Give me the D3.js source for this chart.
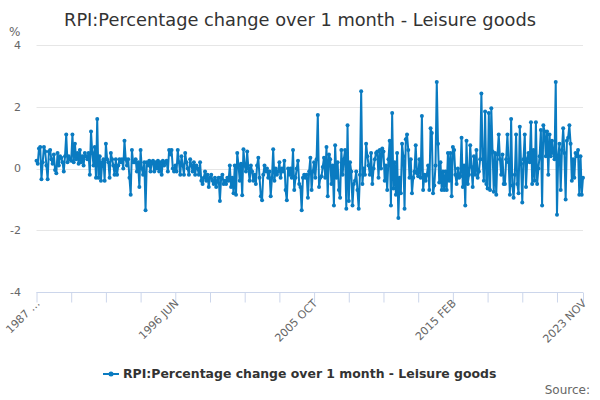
<!DOCTYPE html>
<html><head><meta charset="utf-8">
<script src="https://cdn.jsdelivr.net/npm/d3@7"></script>
<style>body{margin:0;background:#fff} text{font-family:"DejaVu Sans",sans-serif}</style>
</head><body><svg id="c" width="600" height="400"></svg>
<script>
const title = "RPI:Percentage change over 1 month - Leisure goods";
const seriesName = "RPI:Percentage change over 1 month - Leisure goods";
const unitLabel = "%";
const sourceLabel = "Source:";
const monthNames = ["JAN","FEB","MAR","APR","MAY","JUN","JUL","AUG","SEP","OCT","NOV","DEC"];
const startYear = 1987, startMonthIndex = 1; // first observation: 1987 FEB
const values = [
 0.25,0.15,0.65,0.7,-0.35,0.2,0.7,0.55,0.1,-0.35,
 0.55,0.6,0.3,0.15,0.45,-0.05,-0.15,0.5,0.1,0.4,
 0.35,0.2,-0.1,0.4,1.1,0.2,0.4,0.3,0.25,1.1,
 0.2,0.8,0.3,0.5,0.15,0.6,0.2,0.4,0.1,0.5,
 0.4,0.3,0.5,-0.2,1.2,0.5,0.1,0.7,-0.3,1.6,
 -0.3,0.4,-0.4,0.2,0.3,-0.4,0.8,0.3,0.2,-0.3,
 0.5,0.3,0.1,-0.2,0.3,-0.2,0.1,0.3,0.2,0.3,
 0.0,0.9,0.3,0.1,0.3,-0.3,-0.85,0.6,0.2,0.2,
 0.3,-0.1,0.2,-0.6,0.6,0.0,-0.2,0.2,-1.35,0.2,
 0.1,0.25,-0.1,0.2,0.25,-0.1,0.2,0.0,0.25,-0.1,
 0.2,-0.2,0.25,0.1,0.2,0.25,-0.1,0.6,0.45,0.6,
 0.0,-0.1,0.1,-0.1,0.6,0.2,-0.2,0.4,0.1,-0.2,
 0.5,0.2,0.0,-0.2,0.3,0.1,-0.1,0.2,-0.2,0.1,
 0.0,-0.2,0.2,-0.4,-0.5,-0.3,-0.1,-0.4,-0.2,-0.6,
 -0.3,-0.2,-0.4,-0.5,-0.3,-0.6,-0.4,-0.3,-1.05,-0.3,
 -0.2,-0.5,-0.4,-0.5,-0.3,-0.4,0.1,-0.6,-0.3,-0.8,
 0.1,-0.85,0.5,0.1,-0.4,0.15,-0.87,0.62,0.1,-0.1,
 0.55,0.0,-0.4,0.1,-0.1,-0.4,-0.2,-0.5,0.1,0.35,
 -0.3,-0.9,-1.03,-0.2,0.1,-0.1,0.0,-0.3,-0.1,-0.9,
 -0.3,0.62,-0.4,0.0,-0.2,-0.1,0.2,-0.3,0.0,-0.1,
 0.25,-0.7,-1.03,0.0,-0.2,0.0,-0.3,0.6,-0.7,-0.3,
 0.0,0.25,-0.5,-0.6,-1.35,-0.3,-0.2,-0.3,-0.2,-0.95,
 -0.1,0.35,-0.7,-0.1,0.2,-0.3,0.3,1.73,-0.6,-0.3,
 -0.25,0.05,0.35,-0.3,0.7,-0.9,0.45,0.3,-0.5,0.1,
 -1.2,0.75,-0.3,0.2,-0.7,-0.95,0.6,-0.2,0.3,0.6,
 -1.3,1.4,-1.05,0.2,-0.1,-1.2,-0.5,-0.4,-0.1,-0.7,
 -1.3,-0.2,2.5,-0.5,0.0,-0.2,0.8,0.4,0.1,-0.2,
 0.5,-0.5,0.0,0.3,0.5,0.55,-0.3,0.6,0.0,0.65,
 0.55,-0.4,0.1,-0.7,0.3,0.9,-1.2,1.8,-0.65,0.2,
 -0.85,0.5,-1.6,-0.3,-0.8,0.8,0.4,-1.3,0.95,1.1,
 0.6,-0.3,0.3,-0.8,-0.3,-0.1,0.75,-0.15,-0.25,0.3,
 -0.3,1.7,-0.7,-0.2,-0.4,-0.2,0.1,-0.7,1.3,1.15,
 -0.8,-0.55,0.1,2.8,0.8,-0.45,0.2,-0.7,-0.1,-0.7,
 -0.1,-0.7,0.5,-0.4,0.5,-0.9,0.7,0.6,-0.2,-0.5,
 0.0,-0.3,-0.25,1.0,-0.6,0.1,-1.2,0.9,-0.5,-0.2,
 0.75,0.05,-0.6,0.4,-0.2,0.6,-0.3,-0.1,0.3,2.43,
 0.3,-0.4,1.85,-0.5,-0.65,1.8,-0.7,1.95,0.55,-0.75,
 0.5,-0.85,0.45,1.1,0.3,-0.2,0.45,-0.5,-0.5,0.3,
 1.1,0.2,-0.85,1.6,-0.55,-0.95,-0.2,1.1,-0.5,-0.8,
 1.35,0.15,-1.1,0.3,1.1,-0.6,0.3,0.5,0.2,1.5,
 -0.5,0.6,-0.4,1.5,-0.5,0.0,0.4,1.25,-1.2,1.4,
 1.2,0.4,1.2,-0.2,1.1,0.4,0.9,0.5,0.3,2.8,
 -1.5,0.4,0.8,-0.7,0.6,1.3,0.5,-1.0,0.9,1.0,
 1.4,0.8,-0.4,0.3,-0.3,0.5,0.4,0.6,-0.85,0.4,
 -0.85,-0.3
];
const categories = values.map((v, i) => {
  const m = startMonthIndex + i;
  return (startYear + Math.floor(m / 12)) + " " + monthNames[m % 12];
});
const yTicks = [-4, -2, 0, 2, 4];
const tickEvery = 28;
const labelCategories = ["1987 FEB", "1996 JUN", "2005 OCT", "2015 FEB", "2023 NOV"];
const labelTexts = ["1987 …", "1996 JUN", "2005 OCT", "2015 FEB", "2023 NOV"];

const color = "#0a7bc1";
const svg = d3.select("#c");
const plotLeft = 36.5, plotRight = 583, plotTop = 45, plotBottom = 292;
const x = d3.scalePoint().domain(categories).range([plotLeft, plotRight]);
const y = d3.scaleLinear().domain([-4, 4]).range([plotBottom, plotTop]);

// title
svg.append("text").attr("x", 300).attr("y", 26).attr("text-anchor", "middle")
  .attr("font-size", 17.8).attr("fill", "#333").text(title);
svg.append("text").attr("x", 9).attr("y", 36).attr("font-size", 12).attr("fill", "#666").text(unitLabel);

// grid
svg.append("g").selectAll("line").data(yTicks).join("line")
  .attr("x1", plotLeft).attr("x2", plotRight)
  .attr("y1", d => Math.round(y(d)) + 0.5).attr("y2", d => Math.round(y(d)) + 0.5)
  .attr("stroke", "#e6e6e6").attr("stroke-width", 1);
svg.append("g").selectAll("text").data(yTicks).join("text")
  .attr("x", 21).attr("y", d => y(d)).attr("dy", "0.35em").attr("text-anchor", "end")
  .attr("font-size", 11).attr("fill", "#666").text(d => d);

// x axis
const tickCats = categories.filter((c, i) => i % tickEvery === 0 || i === categories.length - 1);
const xAxis = d3.axisBottom(x).tickValues(tickCats).tickSize(10).tickFormat("");
const gx = svg.append("g").attr("transform", `translate(0,${Math.round(plotBottom) + 0.5})`).call(xAxis);
gx.select(".domain").attr("stroke", "#ccd6eb").attr("d", `M${plotLeft},0H${plotRight}`);
gx.selectAll(".tick line").attr("stroke", "#ccd6eb");
svg.append("g").selectAll("text").data(labelCategories).join("text")
  .attr("text-anchor", "end").attr("font-size", 11).attr("fill", "#666")
  .attr("transform", d => `translate(${x(d) + 4},${plotBottom + 12}) rotate(-45)`)
  .text((d, i) => labelTexts[i]);

// series
const line = d3.line().x((d, i) => x(categories[i])).y(d => y(d));
svg.append("path").datum(values).attr("d", line).attr("fill", "none")
  .attr("stroke", color).attr("stroke-width", 2).attr("stroke-linejoin", "round");
svg.append("g").selectAll("circle").data(values).join("circle")
  .attr("cx", (d, i) => x(categories[i])).attr("cy", d => y(d)).attr("r", 2).attr("fill", color);

// legend
const ly = 374;
svg.append("line").attr("x1", 103).attr("x2", 119).attr("y1", ly).attr("y2", ly)
  .attr("stroke", color).attr("stroke-width", 2);
svg.append("circle").attr("cx", 111).attr("cy", ly).attr("r", 2.5).attr("fill", color);
svg.append("text").attr("x", 123).attr("y", ly).attr("dy", "0.35em").attr("font-size", 12.45)
  .attr("font-weight", "bold").attr("fill", "#333").text(seriesName);
svg.append("text").attr("x", 590).attr("y", 394).attr("text-anchor", "end")
  .attr("font-size", 12).attr("fill", "#666").text(sourceLabel);
</script></body></html>
